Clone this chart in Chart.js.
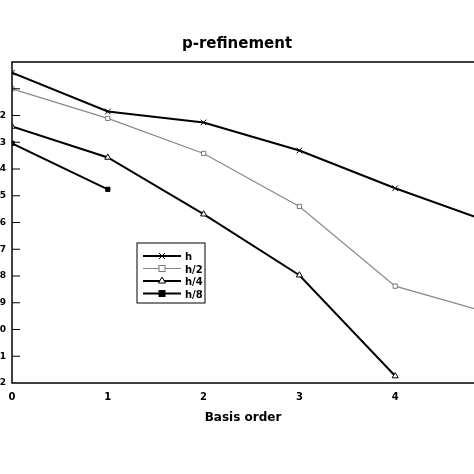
<!DOCTYPE html><html><head><script src="https://cdn.jsdelivr.net/npm/chart.js@4"></script>
<style>body{margin:0;overflow:hidden;background:#fff}#w{width:474px;height:474px;overflow:hidden;position:relative}canvas{position:absolute;left:-40px;top:0}</style></head><body><div id="w"><canvas id="c" width="560" height="474" style="width:560px;height:474px"></canvas></div>
<script>
const basisOrder=[0,1,2,3,4,5];
const hVals=[11.6,10.15,9.74,8.69,7.28,6.0];
const h2Vals=[11.0,9.89,8.58,6.6,3.62,2.6];
const h4Vals=[9.59,8.43,6.31,4.03,0.26];
const h8Vals=[8.96,7.24];
const yTickLabels=['1E-12','1E-11','1E-10','1E-9','1E-8','1E-7','1E-6','1E-5','1E-4','1E-3','1E-2','1E-1','1E0'];
const mk=(v)=>v.map((y,i)=>({x:basisOrder[i],y}));
const series=[
 {label:'h',data:mk(hVals),borderColor:'#000',borderWidth:2,pointStyle:'crossRot',pointRadius:4,pointBorderWidth:1,pointBorderColor:'#000',pointBackgroundColor:'#000'},
 {label:'h/2',data:mk(h2Vals),borderColor:'#888',borderWidth:1.2,pointStyle:'rect',pointRadius:3,pointBorderWidth:1,pointBorderColor:'#777',pointBackgroundColor:'#fff'},
 {label:'h/4',data:mk(h4Vals),borderColor:'#000',borderWidth:2,pointStyle:'triangle',pointRadius:3.5,pointBorderWidth:1,pointBorderColor:'#000',pointBackgroundColor:'#fff'},
 {label:'h/8',data:mk(h8Vals),borderColor:'#000',borderWidth:2,pointStyle:'rect',pointRadius:3,pointBorderWidth:1,pointBorderColor:'#000',pointBackgroundColor:'#000'}
];
const deco={id:'deco',afterDraw(ch){const c=ch.ctx,a=ch.chartArea,y=ch.scales.y;c.save();c.strokeStyle='#000';c.lineWidth=1.5;c.strokeRect(a.left,a.top,a.right-a.left+40,a.bottom-a.top);
c.lineWidth=1;c.fillStyle='#000';c.font='bold 9px "DejaVu Sans"';c.textAlign='right';c.textBaseline='middle';
for(let v=0;v<=12;v++){const p=y.getPixelForValue(v);if(v>0&&v<12){c.beginPath();c.moveTo(a.left,p);c.lineTo(a.left+8,p);c.stroke();}
 if(v<11)c.fillText(yTickLabels[v],a.left-6,p);}
c.textBaseline='alphabetic';
c.font='bold 15px "DejaVu Sans"';c.textAlign='center';c.fillText('p-refinement',40+237,48);
c.font='bold 12px "DejaVu Sans"';c.fillText('Basis order',40+243,421);
const lx=40+137,ly=243;c.lineWidth=1;c.strokeRect(lx,ly,68,60);
series.forEach((s,i)=>{const yy=ly+13+i*12.5;c.strokeStyle=s.borderColor;c.lineWidth=s.borderWidth;c.beginPath();c.moveTo(lx+6,yy);c.lineTo(lx+44,yy);c.stroke();
c.lineWidth=1;c.strokeStyle=s.pointBorderColor;c.fillStyle=s.pointBackgroundColor;const mx=lx+25;
if(s.pointStyle==='crossRot'){c.beginPath();c.moveTo(mx-3,yy-3);c.lineTo(mx+3,yy+3);c.moveTo(mx+3,yy-3);c.lineTo(mx-3,yy+3);c.stroke();}
else if(s.pointStyle==='rect'){c.fillRect(mx-3,yy-3,6,6);c.strokeRect(mx-3,yy-3,6,6);}
else {c.beginPath();c.moveTo(mx,yy-4);c.lineTo(mx+3.5,yy+2);c.lineTo(mx-3.5,yy+2);c.closePath();c.fill();c.stroke();}
c.fillStyle='#000';c.font='bold 10px "DejaVu Sans"';c.textAlign='left';c.fillText(s.label,lx+48,yy+4);c.textAlign='center';});
c.restore();}};
new Chart(document.getElementById('c'),{type:'line',data:{datasets:series.map(s=>({...s,fill:false,tension:0}))},plugins:[deco],
options:{responsive:false,animation:false,layout:{padding:{top:62,right:29,left:0,bottom:0}},
plugins:{legend:{display:false},title:{display:false},tooltip:{enabled:false}},
scales:{x:{type:'linear',min:0,max:5,grid:{display:false},border:{display:false},afterFit:s=>{s.height=91},
 ticks:{stepSize:1,color:'#000',font:{family:'DejaVu Sans',size:10,weight:'bold'},padding:0}},
 y:{min:0,max:12,grid:{display:false},border:{display:false},afterFit:s=>{s.width=52},
 ticks:{display:false,stepSize:1}}}}});
</script></body></html>
